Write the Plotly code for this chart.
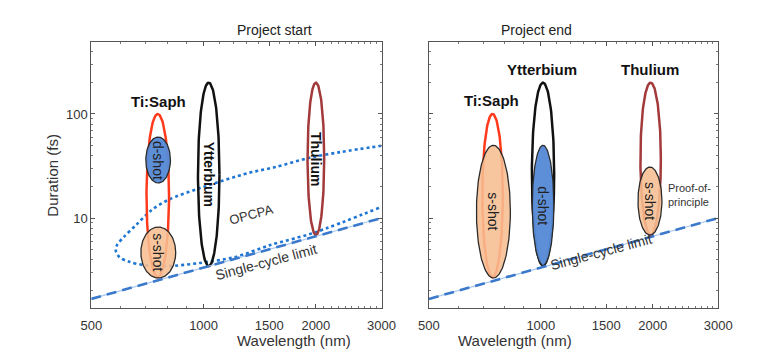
import numpy as np
import plotly.graph_objects as go

# ---------------- data ----------------
# Laser sources: wavelength range (nm) and duration range (fs)
src_names = ["Ti:Saph", "Ytterbium", "Thulium"]
start_src_wl_min = [703, 966, 1900]
start_src_wl_max = [808, 1103, 2106]
start_src_T_min = [2.7, 3.45, 6.87]
start_src_T_max = [100, 200, 200]

end_src_wl_min = [696, 946, 1853]
end_src_wl_max = [790, 1086, 2103]
end_src_T_min = [2.7, 3.5, 6.87]
end_src_T_max = [100, 200, 200]

# compression ("shot") regions
start_shot_names = ["d-shot", "s-shot"]
start_shot_kind = ["d", "s"]
start_shot_wl_min = [700, 679]
start_shot_wl_max = [815, 842]
start_shot_T_min = [21.7, 2.65]
start_shot_T_max = [60, 8.2]

end_shot_names = ["s-shot", "d-shot", "s-shot"]
end_shot_kind = ["s", "d", "s"]
end_shot_wl_min = [671, 948, 1825]
end_shot_wl_max = [828, 1084, 2117]
end_shot_T_min = [2.65, 3.5, 6.87]
end_shot_T_max = [50, 50, 30.9]

# single-cycle limit
cycle_wl = [500, 3000]
cycle_T = [1.67, 10]

# OPCPA region boundary (closed, clipped by the axis)
opcpa_wl = [3000, 2333, 1914, 1561, 1320, 978, 803, 725, 660, 612, 586, 582,
            595, 632, 695, 803, 978, 1209, 1510, 1972, 3000]
opcpa_T = [49.5, 43.1, 37.8, 30.9, 27.1, 19.4, 14.9, 11.9, 8.6, 6.6, 5.5, 4.8,
           4.2, 3.8, 3.52, 3.45, 3.7, 4.2, 5.5, 7.2, 12.8]

x_ticks = [500, 1000, 1500, 2000, 3000]
y_ticks = [10, 100]

# ---------------- styling ----------------
FONT = "Liberation Sans, Arial, sans-serif"
src_colors = ["#ff3a1c", "#111111", "#a2393b"]
shot_fill = {"d": "rgba(86,138,214,0.96)", "s": "rgba(247,190,145,0.88)"}


def ellipse(wmin, wmax, tmin, tmax, n=160):
    t = np.linspace(0, 2 * np.pi, n)
    lx0, lx1 = np.log10(wmin), np.log10(wmax)
    ly0, ly1 = np.log10(tmin), np.log10(tmax)
    lx = (lx0 + lx1) / 2 + (lx1 - lx0) / 2 * np.cos(t)
    ly = (ly0 + ly1) / 2 + (ly1 - ly0) / 2 * np.sin(t)
    return 10 ** lx, 10 ** ly


def center(wmin, wmax, tmin, tmax):
    return (np.log10(wmin) + np.log10(wmax)) / 2, (np.log10(tmin) + np.log10(tmax)) / 2


fig = go.Figure()
annotations = []


def add_panel(xa, ya, src_wmin, src_wmax, src_tmin, src_tmax,
              sh_names, sh_kind, sh_wmin, sh_wmax, sh_tmin, sh_tmax,
              with_opcpa):
    xr, yr = xa.replace("axis", ""), ya.replace("axis", "")
    if with_opcpa:
        fig.add_trace(go.Scatter(x=opcpa_wl, y=opcpa_T, mode="lines",
                                 line=dict(color="#1f76d2", width=2.6, dash="dot",
                                           shape="spline", smoothing=0.9),
                                 xaxis=xr, yaxis=yr, hoverinfo="skip"))
    for i in range(3):
        ex, ey = ellipse(src_wmin[i], src_wmax[i], src_tmin[i], src_tmax[i])
        fig.add_trace(go.Scatter(x=ex, y=ey, mode="lines",
                                 line=dict(color=src_colors[i], width=2.5),
                                 xaxis=xr, yaxis=yr, hoverinfo="skip"))
    for j in range(len(sh_names)):
        ex, ey = ellipse(sh_wmin[j], sh_wmax[j], sh_tmin[j], sh_tmax[j])
        fig.add_trace(go.Scatter(x=ex, y=ey, mode="lines", fill="toself",
                                 fillcolor=shot_fill[sh_kind[j]],
                                 line=dict(color="#2b2b2b", width=1.3),
                                 xaxis=xr, yaxis=yr, hoverinfo="skip"))
        cx, cy = center(sh_wmin[j], sh_wmax[j], sh_tmin[j], sh_tmax[j])
        annotations.append(dict(x=cx, y=cy, xref=xr, yref=yr, text=sh_names[j],
                                textangle=90, showarrow=False,
                                font=dict(family=FONT, size=14, color="#222")))
    fig.add_trace(go.Scatter(x=cycle_wl, y=cycle_T, mode="lines",
                             line=dict(color="#a9c8ee", width=1.2),
                             xaxis=xr, yaxis=yr, hoverinfo="skip"))
    fig.add_trace(go.Scatter(x=cycle_wl, y=cycle_T, mode="lines",
                             line=dict(color="#3b79cb", width=2.6, dash="10px,6px"),
                             xaxis=xr, yaxis=yr, hoverinfo="skip"))


add_panel("xaxis", "yaxis", start_src_wl_min, start_src_wl_max, start_src_T_min, start_src_T_max,
          start_shot_names, start_shot_kind, start_shot_wl_min, start_shot_wl_max,
          start_shot_T_min, start_shot_T_max, True)
add_panel("xaxis2", "yaxis2", end_src_wl_min, end_src_wl_max, end_src_T_min, end_src_T_max,
          end_shot_names, end_shot_kind, end_shot_wl_min, end_shot_wl_max,
          end_shot_T_min, end_shot_T_max, False)

L = np.log10
annotations += [
    dict(x=L(756), y=L(133), xref="x", yref="y", text="<b>Ti:Saph</b>", showarrow=False,
         font=dict(family=FONT, size=15, color="#111")),
    dict(x=np.mean([L(start_src_wl_min[1]), L(start_src_wl_max[1])]),
         y=np.mean([L(start_src_T_min[1]), L(start_src_T_max[1])]),
         xref="x", yref="y", text="<b>Ytterbium</b>", textangle=90, showarrow=False,
         font=dict(family=FONT, size=14, color="#111")),
    dict(x=np.mean([L(start_src_wl_min[2]), L(start_src_wl_max[2])]),
         y=np.mean([L(start_src_T_min[2]), L(start_src_T_max[2])]),
         xref="x", yref="y", text="<b>Thulium</b>", textangle=90, showarrow=False,
         font=dict(family=FONT, size=14, color="#111")),
    dict(x=L(1344), y=L(10.7), xref="x", yref="y", text="OPCPA", textangle=-15,
         showarrow=False, font=dict(family=FONT, size=13, color="#333")),
    dict(x=L(1471), y=L(3.78), xref="x", yref="y", text="Single-cycle limit", textangle=-15,
         showarrow=False, font=dict(family=FONT, size=14, color="#333")),
    dict(x=L(738), y=L(136), xref="x2", yref="y2", text="<b>Ti:Saph</b>", showarrow=False,
         font=dict(family=FONT, size=15, color="#111")),
    dict(x=L(1010), y=L(265), xref="x2", yref="y2", text="<b>Ytterbium</b>", showarrow=False,
         font=dict(family=FONT, size=15, color="#111")),
    dict(x=L(1968), y=L(265), xref="x2", yref="y2", text="<b>Thulium</b>", showarrow=False,
         font=dict(family=FONT, size=15, color="#111")),
    dict(x=L(2165), y=L(16.6), xref="x2", yref="y2", text="Proof-of-<br>principle",
         xanchor="left", align="left", showarrow=False,
         font=dict(family=FONT, size=11, color="#333")),
    dict(x=L(1449), y=L(4.71), xref="x2", yref="y2", text="Single-cycle limit", textangle=-15,
         showarrow=False, font=dict(family=FONT, size=14, color="#333")),
    dict(x=232 / 768, y=1 - 30 / 353, xref="paper", yref="paper", text="Project start",
         yanchor="middle", showarrow=False, font=dict(family=FONT, size=14, color="#222")),
    dict(x=582 / 768, y=1 - 30 / 353, xref="paper", yref="paper", text="Project end",
         yanchor="middle", showarrow=False, font=dict(family=FONT, size=14, color="#222")),
    dict(x=42 / 768, y=1 - 175 / 353, xref="paper", yref="paper", text="Duration (fs)",
         xanchor="center", yanchor="middle",
         textangle=-90, showarrow=False, font=dict(family=FONT, size=15, color="#333")),
    dict(x=232 / 768, y=1 - 340 / 353, xref="paper", yref="paper", text="Wavelength (nm)",
         yanchor="middle", showarrow=False, font=dict(family=FONT, size=15, color="#333")),
    dict(x=582 / 768, y=1 - 340 / 353, xref="paper", yref="paper", text="Wavelength (nm)",
         yanchor="middle", showarrow=False, font=dict(family=FONT, size=15, color="#333")),
]

x_minor = [v for v in range(600, 3000, 100) if v not in x_ticks]
y_minor = list(range(2, 10)) + list(range(20, 100, 10)) + list(range(200, 600, 100))

ydom = [1 - 308 / 353, 1 - 42 / 353]
common_x = dict(type="log", range=[L(500), L(3000)], tickmode="array", tickvals=x_ticks,
                ticktext=[str(v) for v in x_ticks], ticks="inside", ticklen=4,
                tickcolor="#555", showline=True, linecolor="#555", linewidth=1,
                mirror="allticks", showgrid=False, zeroline=False, ticklabelstandoff=5,
                tickfont=dict(family=FONT, size=13, color="#333"),
                minor=dict(tickmode="array", tickvals=x_minor, ticks="inside", ticklen=2,
                           tickcolor="#777", showgrid=False))
common_y = dict(type="log", range=[0.135, 2.692], tickmode="array", tickvals=y_ticks,
                ticks="inside", ticklen=4, tickcolor="#555", showline=True, linecolor="#555",
                linewidth=1, mirror="allticks", showgrid=False, zeroline=False,
                tickfont=dict(family=FONT, size=13, color="#333"),
                minor=dict(tickmode="array", tickvals=y_minor, ticks="inside", ticklen=2,
                           tickcolor="#777", showgrid=False), domain=ydom)

fig.update_layout(
    width=768, height=353, margin=dict(l=0, r=0, t=0, b=0),
    paper_bgcolor="white", plot_bgcolor="white", showlegend=False,
    xaxis=dict(common_x, domain=[83 / 768, 383 / 768], anchor="y"),
    yaxis=dict(common_y, anchor="x", ticktext=["10", "100"]),
    xaxis2=dict(common_x, domain=[432 / 768, 731 / 768], anchor="y2"),
    yaxis2=dict(common_y, anchor="x2", showticklabels=False),
    annotations=annotations,
)

fig.write_html("out.html")
